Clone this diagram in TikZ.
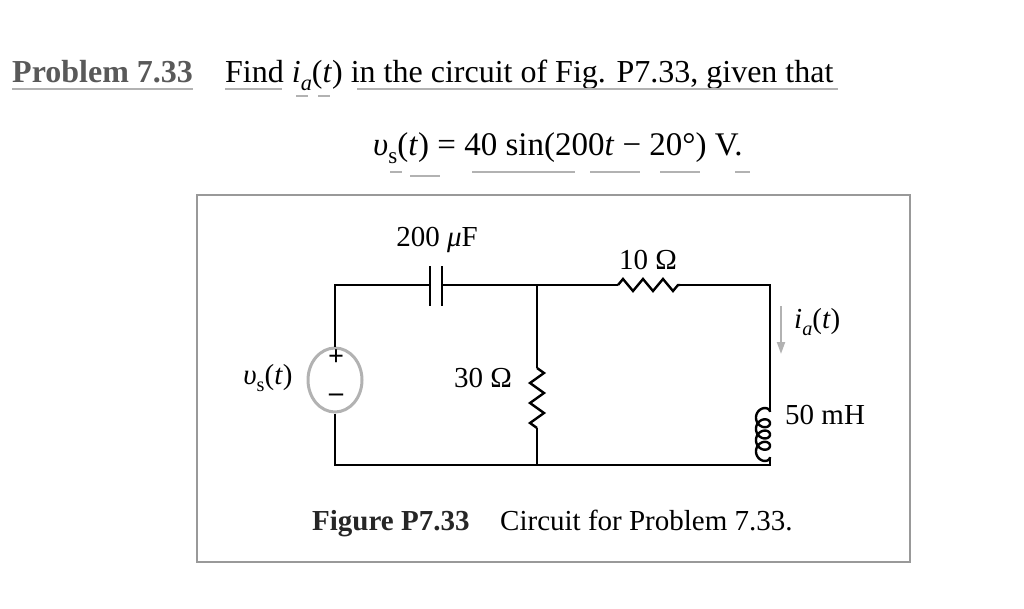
\documentclass[tikz,border=0pt]{standalone}
\usepackage{fontspec}
\setmainfont{Liberation Serif}
\usetikzlibrary{decorations.pathmorphing,arrows.meta,shapes.geometric}
\newcommand{\sbs}[1]{\raisebox{-0.25em}{\scalebox{0.7}{#1}}}
\begin{document}
\begin{tikzpicture}[x=1pt,y=-1pt,
  wire/.style={line width=2.4pt,black},
  ul/.style={gray!60,line width=1.5pt},
  lab/.style={font=\fontsize{29}{31}\selectfont,inner sep=0pt},
  big/.style={font=\fontsize{32}{34}\selectfont,inner sep=0pt}]
\useasboundingbox (0,0) rectangle (1024,608);
% header
\node[big,anchor=base west,text=gray!70!black,font=\fontsize{32}{34}\selectfont\bfseries] (prob) at (12,82) {Problem 7.33};
\node[big,anchor=base west] (find) at (225,82) {Find \textit{i}\sbs{\textit{a}}(\textit{t}) in the circuit of Fig. P7.33, given that};
\draw[ul] (12,89) -- (193,89);
\draw[ul] (225,89) -- (282,89) (296,96) -- (308,96) (318,96) -- (330,96) (357,89) -- (838,89);
\node[big,anchor=base west,font=\fontsize{33}{35}\selectfont] (eq) at (373,155) {\textit{υ}\sbs{s}(\textit{t}) = 40 sin(200\textit{t} − 20°) V.};
\draw[ul] (390,172) -- (402,172) (410,176) -- (440,176) (472,172) -- (575,172) (590,172) -- (640,172) (660,172) -- (700,172) (735,172) -- (750,172);
% frame
\draw[gray!80,line width=2pt] (197,195) rectangle (910,562);
% coordinates
\coordinate (tl) at (335,285); \coordinate (bl) at (335,465);
\coordinate (tm) at (537,285); \coordinate (bm) at (537,465);
\coordinate (tr) at (770,285); \coordinate (br) at (770,465);
\coordinate (lt) at (770,412); \coordinate (lb) at (770,457);
\node[draw=gray!60,line width=3pt,ellipse,minimum width=54pt,minimum height=64pt,inner sep=0pt] (src) at (335,380) {};
% wires
\draw[wire] (src.south) -- (bl) -- (bm) -- (br) -- (lb);
\draw[wire] (src.north) -- (tl) -- (430,285);
\draw[wire] (430,266) -- (430,306) (442,266) -- (442,306);
\draw[wire] (442,285) -- (tm) -- (618,285);
\draw[wire,decorate,decoration={zigzag,segment length=20pt,amplitude=6pt}] (618,285) -- (680,285);
\draw[wire] (680,285) -- (tr) -- (lt);
\draw[wire] (tm) -- (537,368);
\draw[wire,decorate,decoration={zigzag,segment length=20pt,amplitude=7pt}] (537,368) -- (537,428);
\draw[wire] (537,428) -- (bm);
\draw[wire] plot[domain=0:1440,samples=240,variable=\t,smooth] ({770-7*(1-cos(\t))},{412+\t/32-6.5*sin(\t)});
% arrow
\draw[gray!60,line width=2pt,-{Triangle[length=12pt,width=8pt]}] (781,306) -- (781,354);
% labels
\node[font=\fontsize{28}{30}\selectfont\bfseries,inner sep=0pt] (pl) at (336,358) {+};
\node[font=\fontsize{28}{30}\selectfont\bfseries,inner sep=0pt] (mi) at (336,398) {–};
\node[lab] (lvs) at (268,378) {\textit{υ}\sbs{s}(\textit{t})};
\node[lab] (lr3) at (483,378) {30 Ω};
\node[lab] (lr1) at (648,260) {10 Ω};
\node[lab] (lc) at (437,240) {200 \textit{μ}F};
\node[lab,anchor=west] (lia) at (794,322) {\textit{i}\sbs{\textit{a}}(\textit{t})};
\node[lab,anchor=west] (lL) at (785,415) {50 mH};
\node[lab,anchor=base west,font=\fontsize{29}{31}\selectfont\bfseries,text=gray!30!black] (fig) at (312,530) {Figure P7.33};
\node[lab,anchor=base west] (cap) at (500,530) {Circuit for Problem 7.33.};
\end{tikzpicture}
\end{document}
